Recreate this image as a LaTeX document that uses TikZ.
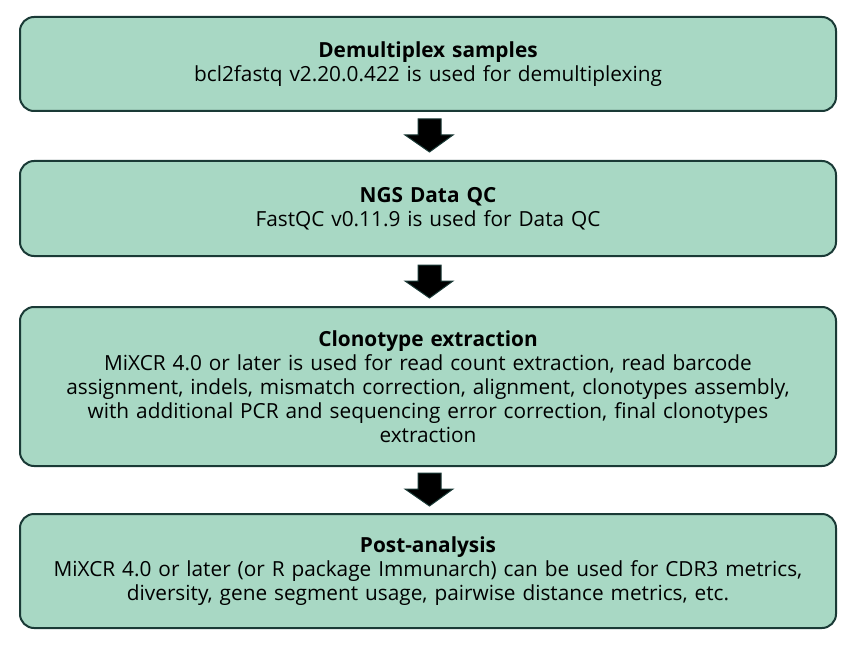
\documentclass[tikz,border=0pt]{standalone}
\usepackage{fontspec}
\setmainfont{Open Sans}
\definecolor{boxfill}{HTML}{A8D8C4}
\definecolor{boxline}{HTML}{1A3A36}
\begin{document}
\begin{tikzpicture}[x=1pt,y=-1pt,
  box/.style={draw=boxline,line width=2pt,fill=boxfill,rounded corners=14pt},
  txt/.style={align=center,font=\fontsize{20.8}{24}\selectfont,text width=830pt},
  blk/.style={fill=black,draw=boxline,line width=1pt}]
\useasboundingbox (0,0) rectangle (862,658);
\draw[box] (20,17) rectangle (836,111) node[midway,txt] (t1) {\textbf{Demultiplex samples}\\bcl2fastq v2.20.0.422 is used for demultiplexing};
\draw[box] (20,161) rectangle (836,256) node[midway,txt] (t2) {\textbf{NGS Data QC}\\FastQC v0.11.9 is used for Data QC};
\draw[box] (20,307) rectangle (836,466) node[midway,txt] (t3) {\textbf{Clonotype extraction}\\MiXCR 4.0 or later is used for read count extraction, read barcode\\assignment, indels, mismatch correction, alignment, clonotypes assembly,\\with additional PCR and sequencing error correction, final clonotypes\\extraction};
\draw[box] (20,514) rectangle (836,628) node[midway,txt] (t4) {\textbf{Post-analysis}\\MiXCR 4.0 or later (or R package Immunarch) can be used for CDR3 metrics,\\diversity, gene segment usage, pairwise distance metrics, etc.};
\foreach \t in {119,265,473}{
 \draw[blk] (418,\t) -- (441,\t) -- (441,\t+16) -- (453,\t+16) -- (429.5,\t+33) -- (405,\t+16) -- (418,\t+16) -- cycle;}
\end{tikzpicture}
\end{document}
